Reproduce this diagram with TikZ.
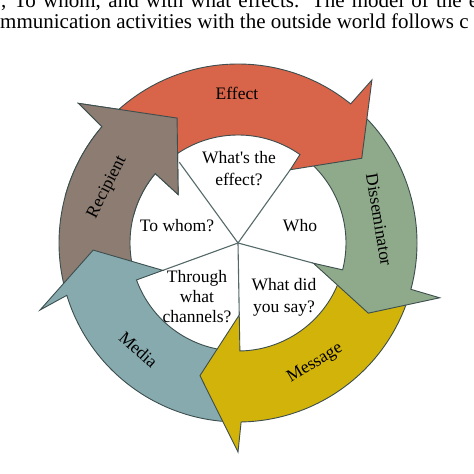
\documentclass[tikz,border=0pt]{standalone}
\usepackage{fontspec}
\setmainfont{Liberation Serif}
\newfontfamily\plainserif{Liberation Serif}
\definecolor{effectcol}{RGB}{216,100,74}
\definecolor{dissemcol}{RGB}{142,170,138}
\definecolor{messagecol}{RGB}{210,179,10}
\definecolor{mediacol}{RGB}{135,170,174}
\definecolor{recipcol}{RGB}{140,124,114}
\definecolor{edgecol}{RGB}{60,78,78}
\definecolor{divcol}{RGB}{85,105,105}
\begin{document}
\begin{tikzpicture}[x=1pt,y=1pt,
  arrowshape/.style={draw=edgecol, line width=0.9pt, line join=miter},
  lbl/.style={font=\fontsize{17.5}{21}\selectfont, align=center, inner sep=0pt},
  bandlbl/.style={font=\fontsize{17.5}{21}\selectfont, inner sep=0pt},
  divider/.style={draw=divcol, line width=1.1pt},
  toptext/.style={font=\fontsize{21}{24}\selectfont, anchor=base west, inner sep=0pt}]
\useasboundingbox (0,0) rectangle (474,474);
\fill[white] (0,0) rectangle (474,474);
\begin{scope}
\clip (0,0) rectangle (474,474);
\node[toptext] (l1) at (1,466) {\makebox[477pt][s]{, To whom, and with what effects. The model of the e}};
\node[toptext] (l2) at (0,445) {mmunication activities with the outside world follows c};
\end{scope}

\begin{scope}[shift={(238,231)}]
\coordinate (C) at (0,0);
% dividers of the inner disc
\coordinate (dv1) at (54.5:90);
\coordinate (dv2) at (126:100);
\coordinate (dv3) at (200:80);
\coordinate (dv4) at (-89:72);
\coordinate (dv5) at (-15:78);
\draw[divider] (C) -- (dv1);
\draw[divider] (C) -- (dv2);
\draw[divider] (C) -- (dv3);
\draw[divider] (C) -- (dv4);
\draw[divider] (C) -- (dv5);

% Recipient (brown)
\filldraw[arrowshape, fill=recipcol] (195:179) arc[start angle=195, end angle=139.5, radius=179]
  -- (138.8:212) -- (116:139) -- (141:77) -- (140:108)
  arc[start angle=140, end angle=195, radius=108] -- cycle;
% Media (teal)
\filldraw[arrowshape, fill=mediacol] (267:179) arc[start angle=267, end angle=197, radius=179]
  -- (198.7:209) -- (182.8:145) -- (200:80) -- (200:108)
  arc[start angle=200, end angle=267, radius=108] -- cycle;
% Message (yellow)
\filldraw[arrowshape, fill=messagecol] (-18:179) arc[start angle=-18, end angle=-89, radius=179]
  -- (-90:209) -- (-106:138) -- (-89:72) -- (-89:108)
  arc[start angle=-89, end angle=-18, radius=108] -- cycle;
% Disseminator (green)
\filldraw[arrowshape, fill=dissemcol] (48:179) arc[start angle=48, end angle=-15, radius=179]
  -- (-15.2:209) -- (-28.3:148) -- (-15:78) -- (-14.4:108)
  arc[start angle=-14.4, end angle=48, radius=108] -- cycle;
% Effect (red)
\filldraw[arrowshape, fill=effectcol] (136:179) arc[start angle=136, end angle=51, radius=179]
  -- (50.6:211) -- (34.4:150) -- (54.5:90) -- (55:108)
  arc[start angle=55, end angle=136, radius=108] -- cycle;
% Recipient head again over the Effect tail
\begin{scope}
\clip (0,0) -- (100:240) arc[start angle=100, end angle=165, radius=240] -- cycle;
\filldraw[arrowshape, fill=recipcol] (195:179) arc[start angle=195, end angle=139.5, radius=179]
  -- (138.8:212) -- (116:139) -- (141:77) -- (140:108)
  arc[start angle=140, end angle=195, radius=108] -- cycle;
\end{scope}

% band labels
\node[bandlbl] (effect) at (90.4:150) {Effect};
\node[bandlbl, rotate=-80.6] (dissem) at (9.4:143) {Disseminator};
\node[bandlbl, rotate=31] (message) at (-57.4:143) {Message};
\node[bandlbl, rotate=-42] (media) at (-133:146) {Media};
\node[bandlbl, rotate=63] (recip) at (157:142) {Recipient};
\end{scope}

% inner labels
\node[lbl, font=\plainserif\fontsize{17.5}{22}\selectfont] (q1) at (239,305) {What's the\\effect?};
\node[lbl] (q2) at (300,248) {Who};
\node[lbl] (q5) at (177,248) {To whom?};
\node[lbl, font=\fontsize{17.5}{20}\selectfont] (q4) at (197,177) {Through\\what\\channels?};
\node[lbl, font=\fontsize{17.5}{22}\selectfont] (q3) at (284,177) {What did\\you say?};
\end{tikzpicture}
\end{document}
